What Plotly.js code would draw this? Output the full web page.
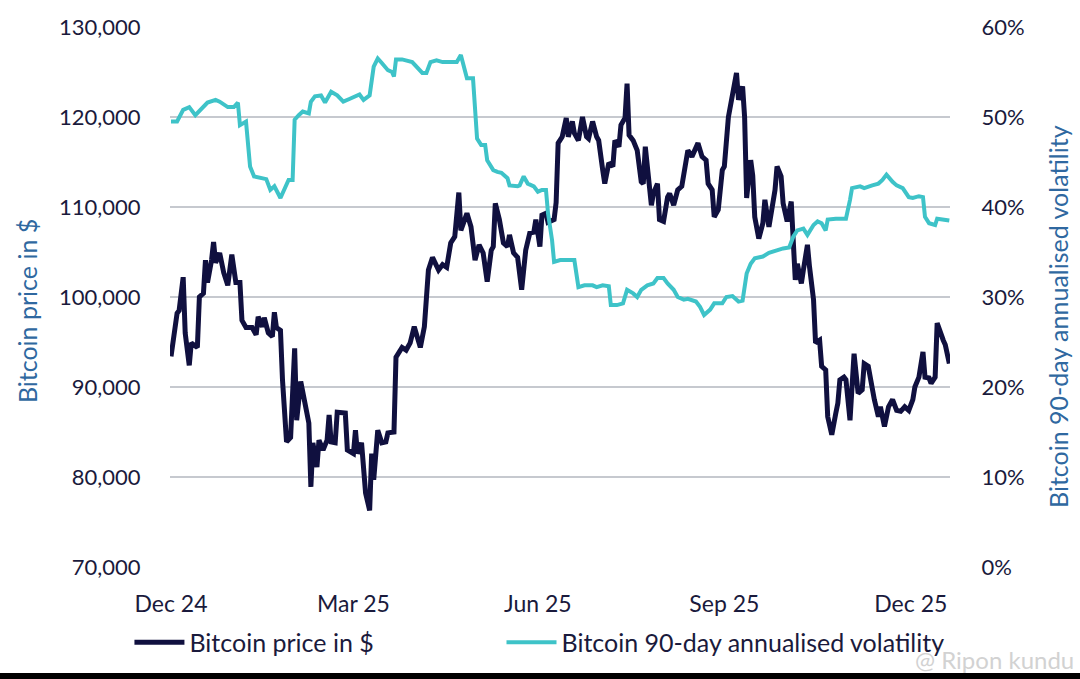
<!DOCTYPE html>
<html>
<head>
<meta charset="utf-8">
<script src="https://cdn.plot.ly/plotly-3.0.1.min.js"></script>
<style>html,body{margin:0;padding:0;background:#fff;}#chart{width:1080px;height:679px;}</style>
</head>
<body>
<div id="chart"></div>
<script>
const priceDates = ["2024-12-31","2025-01-01","2025-01-03","2025-01-04","2025-01-06","2025-01-07","2025-01-09","2025-01-10","2025-01-13","2025-01-14","2025-01-16","2025-01-17","2025-01-18","2025-01-20","2025-01-21","2025-01-22","2025-01-24","2025-01-26","2025-01-28","2025-01-30",
"2025-02-01","2025-02-03","2025-02-04","2025-02-06","2025-02-09","2025-02-11","2025-02-12","2025-02-14","2025-02-15","2025-02-17","2025-02-19","2025-02-20","2025-02-21","2025-02-23","2025-02-24","2025-02-26","2025-02-28",
"2025-03-02","2025-03-03","2025-03-05","2025-03-07","2025-03-09","2025-03-10","2025-03-11","2025-03-13","2025-03-14","2025-03-16","2025-03-18","2025-03-19","2025-03-20","2025-03-22","2025-03-23","2025-03-27","2025-03-28","2025-03-31",
"2025-04-01","2025-04-02","2025-04-04","2025-04-06","2025-04-08","2025-04-09","2025-04-10","2025-04-12","2025-04-14","2025-04-16","2025-04-17","2025-04-20","2025-04-21","2025-04-24","2025-04-26","2025-04-28","2025-04-30",
"2025-05-03","2025-05-05","2025-05-07","2025-05-09","2025-05-12","2025-05-14","2025-05-16","2025-05-18","2025-05-20","2025-05-22","2025-05-23","2025-05-26","2025-05-28","2025-05-30",
"2025-06-01","2025-06-03","2025-06-05","2025-06-07","2025-06-08","2025-06-09","2025-06-11","2025-06-13","2025-06-15","2025-06-16","2025-06-18","2025-06-20","2025-06-22","2025-06-24","2025-06-26","2025-06-28","2025-06-29",
"2025-07-01","2025-07-02","2025-07-04","2025-07-05","2025-07-08","2025-07-09","2025-07-10","2025-07-12","2025-07-14","2025-07-15","2025-07-17","2025-07-18","2025-07-20","2025-07-22","2025-07-24","2025-07-25","2025-07-27","2025-07-29","2025-07-30",
"2025-08-01","2025-08-02","2025-08-04","2025-08-06","2025-08-07","2025-08-09","2025-08-10","2025-08-12","2025-08-13","2025-08-14","2025-08-16","2025-08-18","2025-08-20","2025-08-21","2025-08-22","2025-08-23","2025-08-25","2025-08-26","2025-08-28","2025-08-29","2025-08-31",
"2025-09-02","2025-09-03","2025-09-05","2025-09-07","2025-09-09","2025-09-11","2025-09-12","2025-09-14","2025-09-16","2025-09-17","2025-09-19","2025-09-21","2025-09-22","2025-09-24","2025-09-25","2025-09-27","2025-09-29","2025-09-30",
"2025-10-02","2025-10-04","2025-10-05","2025-10-06","2025-10-07","2025-10-09","2025-10-10","2025-10-11","2025-10-13","2025-10-14","2025-10-15","2025-10-17","2025-10-19","2025-10-20","2025-10-22","2025-10-24","2025-10-25","2025-10-26","2025-10-28","2025-10-29","2025-10-31",
"2025-11-02","2025-11-03","2025-11-04","2025-11-05","2025-11-07","2025-11-08","2025-11-10","2025-11-11","2025-11-13","2025-11-14","2025-11-16","2025-11-17","2025-11-19","2025-11-20","2025-11-22","2025-11-24","2025-11-25","2025-11-26","2025-11-28","2025-11-29",
"2025-12-01","2025-12-03","2025-12-05","2025-12-07","2025-12-08","2025-12-10","2025-12-12","2025-12-13","2025-12-15","2025-12-16","2025-12-18","2025-12-20","2025-12-22","2025-12-24","2025-12-26","2025-12-28","2025-12-30",
"2026-01-01","2026-01-02","2026-01-04","2026-01-06","2026-01-07","2026-01-09","2026-01-10","2026-01-12","2026-01-13","2026-01-16","2026-01-17","2026-01-19"];

const priceValues = [93400,95200,98200,98500,102200,96000,92400,94900,94400,100000,100400,104100,101600,104100,106100,103800,104900,102700,101300,104700,
101600,101600,97400,96600,96600,95800,97800,96700,97700,96000,95600,98300,96600,96300,90800,83900,84400,
94300,86300,90600,88600,86000,78900,83800,81100,84100,83000,84100,86900,83900,83800,87200,87100,83000,82600,
85200,82600,83800,78200,76300,82600,79700,85200,83800,83900,84900,85000,93300,94400,94100,94900,96700,
94400,96700,103000,104400,103000,103600,103300,106000,106700,111600,107400,109300,107800,104100,
105800,104900,101700,105200,105600,110400,108600,106000,105600,106900,104900,104400,100800,105200,107100,107200,108600,
105600,109100,109300,108300,108600,110500,117100,117800,119900,117800,119500,118200,117400,120000,117800,117600,119500,117800,117400,
114100,112600,114900,114500,117400,116700,119100,119900,123700,118000,117400,116300,112800,112600,116700,114100,110200,111500,112600,108600,108400,
111100,111500,110200,111900,112300,115600,116300,115600,116700,117100,115600,115200,112600,111900,108900,109700,114100,114500,
120000,122600,123400,124900,121900,123400,120000,111000,115200,113500,108900,106500,108200,110800,107800,110800,111900,114500,113400,110400,108400,
110600,106700,101900,103700,101500,103000,105800,103400,99700,94900,95200,92300,91900,86700,84700,87100,88200,90800,91100,90800,
86300,93700,89300,89700,92600,92300,89700,88600,86700,87800,85600,87800,88600,87400,87300,87800,87400,
88600,90000,91100,93900,91100,91000,90400,91100,97100,95200,94700,92600];

const volDates = ["2024-12-31","2025-01-03","2025-01-06","2025-01-09","2025-01-12","2025-01-16","2025-01-18","2025-01-22","2025-01-24","2025-01-28","2025-01-31",
"2025-02-02","2025-02-03","2025-02-06","2025-02-08","2025-02-10","2025-02-14","2025-02-16","2025-02-18","2025-02-20","2025-02-23","2025-02-25","2025-02-27",
"2025-03-01","2025-03-02","2025-03-04","2025-03-06","2025-03-09","2025-03-10","2025-03-12","2025-03-15","2025-03-17","2025-03-20","2025-03-23","2025-03-26","2025-03-29",
"2025-04-01","2025-04-03","2025-04-05","2025-04-08","2025-04-10","2025-04-12","2025-04-14","2025-04-17","2025-04-19","2025-04-20","2025-04-21","2025-04-24","2025-04-29",
"2025-05-01","2025-05-04","2025-05-06","2025-05-08","2025-05-11","2025-05-14","2025-05-18","2025-05-21","2025-05-23","2025-05-24","2025-05-26","2025-05-29","2025-05-30","2025-05-31",
"2025-06-02","2025-06-04","2025-06-05","2025-06-08","2025-06-10","2025-06-12","2025-06-15","2025-06-16","2025-06-20","2025-06-21","2025-06-23","2025-06-25","2025-06-28","2025-06-30",
"2025-07-02","2025-07-04","2025-07-05","2025-07-07","2025-07-08","2025-07-11","2025-07-14","2025-07-17","2025-07-18","2025-07-20","2025-07-23","2025-07-27","2025-07-29",
"2025-08-01","2025-08-04","2025-08-05","2025-08-08","2025-08-11","2025-08-13","2025-08-16","2025-08-18","2025-08-20","2025-08-23","2025-08-26","2025-08-28","2025-08-31",
"2025-09-02","2025-09-05","2025-09-07","2025-09-10","2025-09-12","2025-09-16","2025-09-18","2025-09-20","2025-09-23","2025-09-25","2025-09-29",
"2025-10-01","2025-10-04","2025-10-07","2025-10-09","2025-10-11","2025-10-13","2025-10-15","2025-10-19","2025-10-22","2025-10-26","2025-10-29",
"2025-11-01","2025-11-03","2025-11-05","2025-11-08","2025-11-10","2025-11-13","2025-11-15","2025-11-17","2025-11-19","2025-11-20","2025-11-24","2025-11-26","2025-11-29",
"2025-12-01","2025-12-02","2025-12-06","2025-12-08","2025-12-12","2025-12-15","2025-12-17","2025-12-19","2025-12-22","2025-12-24","2025-12-27","2025-12-30",
"2026-01-01","2026-01-04","2026-01-06","2026-01-07","2026-01-09","2026-01-12","2026-01-13","2026-01-16","2026-01-19"];

const volValues = [49.5,49.5,50.8,51.1,50.2,51.1,51.6,51.9,51.7,51.1,51.1,
51.6,49.1,49.5,44.5,43.4,43.2,43.1,41.9,42.3,41.0,42.1,43.0,
43.0,49.7,50.2,50.6,50.4,51.7,52.3,52.4,51.6,52.8,52.4,51.7,52.0,
52.3,52.5,51.9,52.4,55.6,56.5,56.0,55.2,55.0,54.5,56.4,56.4,56.1,
55.6,54.9,54.9,56.1,56.3,56.1,56.1,56.1,56.9,56.0,54.3,54.3,50.4,47.6,
46.9,46.9,45.2,44.1,43.9,43.8,43.2,42.4,42.3,42.4,43.4,42.6,42.3,41.7,
41.9,41.9,39.3,36.3,33.9,34.1,34.1,34.1,34.1,31.1,31.3,31.3,31.1,
31.3,31.2,29.1,29.1,29.3,30.8,30.4,30.0,30.8,31.3,31.5,32.1,32.1,
31.5,30.8,30.0,29.7,29.8,29.5,28.9,28.0,28.6,29.3,29.3,
30.0,30.1,29.5,29.6,32.6,33.7,34.3,34.5,34.9,35.2,35.4,
35.5,36.7,37.4,37.6,36.9,38.0,38.4,38.2,37.4,38.6,38.7,38.7,38.7,
40.8,42.1,42.3,42.1,42.4,42.6,43.0,43.6,42.8,42.4,42.1,41.1,
41.0,41.2,41.1,38.9,38.2,38.0,38.7,38.6,38.5];

const xTickDates = ["2024-12-31","2025-03-31","2025-06-30","2025-09-30","2025-12-31"];
const xTickLabels = ["Dec 24","Mar 25","Jun 25","Sep 25","Dec 25"];
const priceTicks = [70000,80000,90000,100000,110000,120000,130000];
const volTicks = [0,10,20,30,40,50,60];
const volTickLabels = ["0%","10%","20%","30%","40%","50%","60%"];

const seriesNames = ["Bitcoin price in $","Bitcoin 90-day annualised volatility"];
const navy = "#10103f";
const teal = "#3ec3c8";
const tickColor = "#1a1a3c";
const titleBlue = "#2f68a0";
const FONT = "Lato, 'Open Sans', sans-serif";

const traces = [
  {x: priceDates, y: priceValues, name: seriesNames[0], type: "scatter", mode: "lines",
   line: {color: navy, width: 5}, yaxis: "y", legend: "legend"},
  {x: volDates, y: volValues, name: seriesNames[1], type: "scatter", mode: "lines",
   line: {color: teal, width: 4}, yaxis: "y2", legend: "legend2"}
];

const legendStyle = (xpos) => ({orientation: "h", x: xpos, xanchor: "left", y: -0.14, yanchor: "middle",
  font: {family: FONT, size: 25, color: tickColor}, itemwidth: 50, bgcolor: "rgba(0,0,0,0)"});

const layout = {
  width: 1080, height: 679,
  margin: {l: 170, r: 130, t: 27, b: 112, pad: 0},
  paper_bgcolor: "#ffffff", plot_bgcolor: "#ffffff",
  font: {family: FONT, color: tickColor, size: 22},
  showlegend: true,
  legend: legendStyle(-0.052),
  legend2: legendStyle(0.425),
  xaxis: {type: "date", range: ["2024-12-30 12:00", "2026-01-19 08:00"],
          tickmode: "array", tickvals: xTickDates, ticktext: xTickLabels,
          showgrid: false, zeroline: false, showline: false,
          ticks: "outside", ticklen: 16, tickcolor: "rgba(0,0,0,0)",
          tickfont: {family: FONT, size: 23, color: tickColor}},
  yaxis: {range: [70000, 130000], tickmode: "array", tickvals: priceTicks, tickformat: ",.0f",
          showgrid: true, gridcolor: "#c6c9cf", gridwidth: 1.5, zeroline: false, showline: false,
          ticks: "outside", ticklen: 24, tickcolor: "rgba(0,0,0,0)",
          tickfont: {family: FONT, size: 22, color: tickColor}},
  yaxis2: {range: [0, 60], overlaying: "y", side: "right", tickmode: "array", tickvals: volTicks,
           ticktext: volTickLabels, showgrid: false, zeroline: false, showline: false,
           ticks: "outside", ticklen: 26, tickcolor: "rgba(0,0,0,0)",
           tickfont: {family: FONT, size: 22, color: tickColor}},
  annotations: [
    {text: seriesNames[0], xref: "paper", yref: "paper", x: -0.1833, y: 0.474, xanchor: "center", yanchor: "middle",
     textangle: -90, showarrow: false, font: {family: FONT, size: 25, color: titleBlue}},
    {text: seriesNames[1], xref: "paper", yref: "paper", x: 1.1385, y: 0.463, xanchor: "center", yanchor: "middle",
     textangle: -90, showarrow: false, font: {family: FONT, size: 25, color: titleBlue}},
    {text: "@ Ripon kundu", xref: "paper", yref: "paper", x: 1.161, y: -0.172, xanchor: "right", yanchor: "middle",
     showarrow: false, font: {family: FONT, size: 24, color: "#d2d2d2"}}
  ],
  shapes: [
    {type: "rect", xref: "paper", yref: "paper", x0: -0.25, x1: 1.2, y0: -0.215, y1: -0.1963,
     fillcolor: "#000000", line: {width: 0}}
  ]
};

Plotly.newPlot("chart", traces, layout, {displayModeBar: false, staticPlot: true});
</script>
</body>
</html>
